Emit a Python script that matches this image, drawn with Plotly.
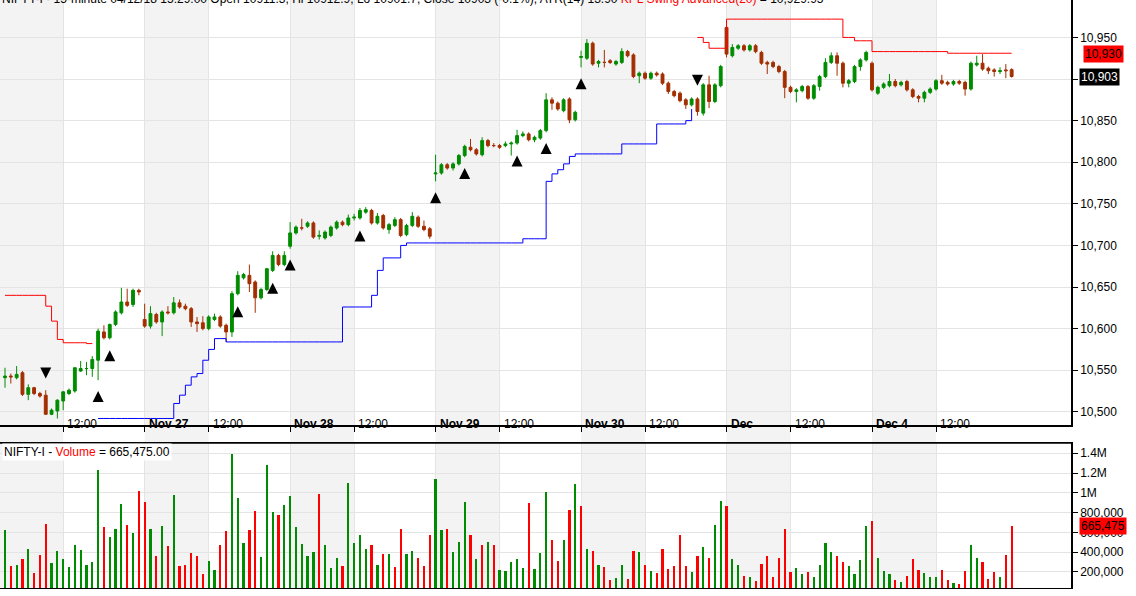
import plotly.graph_objects as go

# ---- 15-minute bars, NIFTY-I, Nov 26 - Dec 4 2018 ----
opens = [
    10541, 10543, 10541, 10547, 10521, 10529, 10522, 10520, 10497, 10501, 10513, 10522, 10525, 10549, 10552, 10552,
    10562, 10596, 10589, 10605, 10619, 10632, 10629, 10646,
    10611, 10603, 10617, 10608, 10620, 10619, 10631, 10627, 10624, 10608, 10607, 10600, 10611, 10614, 10604, 10596,
    10642, 10661, 10664, 10656, 10637, 10647, 10670, 10688, 10677,
    10699, 10715, 10721, 10723, 10727, 10711, 10709, 10712, 10721, 10728, 10725, 10733, 10733, 10740, 10742, 10727,
    10736, 10719, 10724, 10731, 10713, 10724, 10734, 10723, 10720,
    10786, 10787, 10797, 10793, 10798, 10808, 10818, 10815, 10809, 10826, 10820, 10820, 10820, 10822, 10823, 10832,
    10834, 10827, 10829, 10838, 10875, 10871, 10862, 10876, 10851,
    10926, 10925, 10943, 10919, 10920, 10922, 10918, 10920, 10933, 10929, 10904, 10907, 10901, 10907, 10906, 10895,
    10885, 10883, 10875, 10869, 10876, 10859, 10893, 10873, 10892,
    10962, 10928, 10937, 10940, 10935, 10940, 10932, 10920, 10920, 10915, 10909, 10890, 10885, 10886, 10891, 10877,
    10891, 10903, 10920, 10928, 10919, 10895, 10897, 10915, 10923,
    10919, 10883, 10890, 10892, 10897, 10893, 10897, 10887, 10879, 10877, 10884, 10888, 10898, 10896, 10894, 10897,
    10896, 10888, 10917, 10919, 10913, 10911, 10909, 10911, 10911.3,
]
highs = [
    10553, 10546, 10555, 10549, 10533, 10530, 10524, 10526, 10504, 10515, 10525, 10528, 10553, 10561, 10560, 10567,
    10600, 10604, 10606, 10622, 10649, 10648, 10648, 10648,
    10630, 10627, 10619, 10622, 10627, 10638, 10635, 10630, 10626, 10614, 10615, 10616, 10618, 10616, 10606, 10645,
    10669, 10667, 10677, 10658, 10649, 10673, 10693, 10690, 10693,
    10728, 10724, 10732, 10729, 10729, 10718, 10718, 10724, 10730, 10730, 10737, 10738, 10745, 10746, 10744, 10739,
    10738, 10727, 10734, 10733, 10726, 10740, 10736, 10730, 10722,
    10809, 10799, 10799, 10800, 10810, 10821, 10828, 10817, 10830, 10828, 10823, 10822, 10825, 10825, 10839, 10837,
    10836, 10832, 10840, 10883, 10878, 10873, 10877, 10878, 10862,
    10934, 10948, 10945, 10923, 10935, 10924, 10923, 10937, 10935, 10931, 10909, 10909, 10909, 10909, 10908, 10897,
    10887, 10885, 10877, 10878, 10878, 10895, 10904, 10895, 10917,
    10970, 10942, 10942, 10942, 10942, 10942, 10934, 10922, 10922, 10917, 10911, 10892, 10889, 10893, 10893, 10894,
    10905, 10925, 10932, 10932, 10921, 10900, 10917, 10925, 10934,
    10921, 10892, 10896, 10906, 10900, 10898, 10899, 10889, 10881, 10886, 10890, 10900, 10905, 10898, 10899, 10899,
    10898, 10921, 10928, 10930, 10915, 10913, 10914, 10918, 10912.9,
]
lows = [
    10529, 10534, 10539, 10519, 10514, 10520, 10517, 10497, 10496, 10492, 10502, 10520, 10523, 10548, 10544, 10542,
    10538, 10587, 10587, 10603, 10617, 10626, 10626, 10640,
    10601, 10600, 10606, 10591, 10617, 10617, 10624, 10622, 10602, 10596, 10598, 10598, 10609, 10601, 10584, 10590,
    10640, 10659, 10644, 10619, 10635, 10645, 10668, 10675, 10675,
    10696, 10713, 10718, 10721, 10708, 10707, 10707, 10710, 10719, 10723, 10723, 10730, 10731, 10738, 10725, 10725,
    10719, 10714, 10722, 10710, 10711, 10722, 10721, 10717, 10708,
    10777, 10785, 10791, 10790, 10796, 10806, 10813, 10808, 10807, 10818, 10818, 10816, 10818, 10808, 10821, 10830,
    10825, 10824, 10827, 10836, 10863, 10862, 10860, 10847, 10849,
    10914, 10923, 10916, 10914, 10914, 10918, 10916, 10918, 10926, 10901, 10895, 10899, 10899, 10903, 10893, 10882,
    10878, 10872, 10864, 10867, 10856, 10856, 10865, 10871, 10890,
    10926, 10926, 10935, 10933, 10933, 10931, 10917, 10906, 10913, 10907, 10877, 10883, 10872, 10884, 10875, 10875,
    10886, 10901, 10918, 10904, 10890, 10890, 10895, 10910, 10921,
    10885, 10881, 10888, 10890, 10890, 10891, 10885, 10877, 10872, 10872, 10882, 10886, 10893, 10892, 10892, 10893,
    10880, 10886, 10915, 10910, 10906, 10903, 10906, 10901, 10901.7,
]
closes = [
    10543, 10542, 10545, 10521, 10529, 10522, 10519, 10497, 10502, 10514, 10524, 10526, 10553, 10552, 10552, 10563,
    10597, 10589, 10605, 10620, 10632, 10628, 10646, 10644,
    10603, 10618, 10608, 10620, 10619, 10631, 10626, 10624, 10608, 10606, 10600, 10614, 10614, 10603, 10596, 10642,
    10664, 10665, 10654, 10637, 10647, 10672, 10688, 10677, 10688,
    10715, 10722, 10721, 10727, 10710, 10712, 10716, 10722, 10728, 10725, 10733, 10734, 10742, 10743, 10727, 10735,
    10721, 10725, 10731, 10712, 10724, 10735, 10723, 10719, 10711,
    10787, 10797, 10793, 10798, 10808, 10819, 10815, 10810, 10826, 10820, 10820, 10818, 10822, 10823, 10832, 10834,
    10827, 10830, 10838, 10875, 10871, 10864, 10875, 10851, 10860,
    10927, 10943, 10918, 10921, 10920, 10920, 10921, 10933, 10928, 10903, 10907, 10901, 10907, 10905, 10895, 10885,
    10880, 10874, 10869, 10876, 10861, 10893, 10873, 10893, 10915,
    10930, 10938, 10940, 10935, 10940, 10933, 10919, 10918, 10915, 10909, 10890, 10885, 10887, 10891, 10877, 10892,
    10903, 10920, 10928, 10919, 10895, 10898, 10915, 10923, 10932,
    10887, 10890, 10894, 10897, 10892, 10896, 10887, 10879, 10877, 10884, 10888, 10898, 10895, 10894, 10897, 10895,
    10888, 10919, 10919, 10912, 10910, 10909, 10910, 10910, 10903,
]

# volume in thousands, and bar colour (G = up, R = down)
volume_k = [
    625, 261, 271, 331, 433, 190, 372, 685, 291, 412, 331, 251, 473, 426, 271, 301, 1231, 655, 554, 635,
    888, 675, 594, 1019, 908, 635, 362, 665, 463, 978, 261, 271, 392, 362, 180, 311, 220, 473, 614, 1393,
    948, 493, 625, 817, 352, 1282, 807, 776, 878, 968, 655, 483, 362, 402, 989, 473, 240, 342, 261, 1100,
    493, 574, 433, 473, 271, 382, 382, 251, 635, 382, 412, 342, 261, 574, 1140, 625, 635, 402, 503, 908,
    574, 331, 473, 503, 473, 220, 210, 301, 331, 240, 898, 230, 392, 1009, 523, 311,
    523, 827, 1093, 867, 433, 412, 271, 251, 119, 139, 271, 129, 412, 402, 271, 210, 190, 433, 230, 261,
    574, 261, 200, 362, 453, 342, 675, 918, 867, 331, 271, 160, 149, 109, 281, 362, 149, 342, 635, 200,
    240, 180, 200, 149, 271, 493, 402, 362, 301, 261, 180, 321, 665, 716, 342, 210, 180, 119, 99, 160,
    331, 220, 190, 149, 149, 220, 119, 89, 79, 210, 473, 342, 301, 129, 200, 149, 372, 665.475,
]
volume_dir = (
    "GRGRGRRRGG" "GGGGGGGRGG" "GRGRRGRGRG" "RRRRRGGRRG" "GGRRGGGRGG"
    "GGGGRGGGRG" "GGGRGRGRRG" "GRRRGGRGGG" "RGRGRGGGGG" "RGGGRR"
    "GRGRGRGRRG" "GRRGRGRRRR" "RRGRGRGGRG" "GRGRRRRRRR" "GGRGGGGRRG"
    "GGGRGGGRGR" "RRGGGRRGRR" "GGRRRGRR"
)

# KPL swing stops as (value, number of bars); None = not shown
upper_runs = [(10640, 7), (10627, 1), (10609, 1), (10587, 1), (10583, 4), (10582, 2), (None, 103),
              (10950, 1), (10944, 1), (10937, 3), (10972, 20), (10950, 2), (10946, 3), (10933, 13), (10931, 12)]
lower_runs = [(None, 16), (10492, 13), (10510, 1), (10520, 1), (10532, 1), (10542, 1), (10546, 1), (10562, 1),
              (10575, 1), (10588, 2), (10584, 20), (10626, 5), (10640, 1), (10670, 1), (10685, 3), (10700, 1),
              (10703, 20), (10708, 4), (10777, 1), (10786, 1), (10791, 1), (10798, 1), (10807, 1), (10810, 8),
              (10822, 6), (10846, 5), (10850, 1), (10864, 1), (None, 55)]

buy_bars = [16, 18, 40, 46, 49, 61, 74, 79, 88, 93, 99]
sell_bars = [7, 119]

day_starts = [24, 49, 74, 99, 124, 149]
day_labels = ["Nov 27", "Nov 28", "Nov 29", "Nov 30", "Dec", "Dec 4"]
noon_bars = [10, 35, 60, 85, 110, 135, 160]

price_ticks = [10500, 10550, 10600, 10650, 10700, 10750, 10800, 10850, 10900, 10950]
vol_ticks = [200000, 400000, 600000, 800000, 1000000, 1200000, 1400000]
vol_tick_text = ["200,000", "400,000", "600,000", "800,000", "1M", "1.2M", "1.4M"]


def expand(runs):
    out = []
    for v, n in runs:
        out += [v] * n
    return out


bars = list(range(len(closes)))
upper = expand(upper_runs)
lower = expand(lower_runs)
volume = [v * 1000 for v in volume_k]
vol_colors = ["#008c00" if d == "G" else "#ff0000" for d in volume_dir]

fig = go.Figure()

fig.add_trace(go.Candlestick(
    x=bars, open=opens, high=highs, low=lows, close=closes,
    increasing=dict(line=dict(color="#008c00", width=1), fillcolor="#008c00"),
    decreasing=dict(line=dict(color="#a32e00", width=1), fillcolor="#a32e00"),
    whiskerwidth=0, xaxis="x", yaxis="y", showlegend=False,
))
fig.add_trace(go.Scatter(x=bars, y=upper, mode="lines", line=dict(color="#ff0000", width=1, shape="hv"),
                         xaxis="x", yaxis="y", showlegend=False, connectgaps=False))
fig.add_trace(go.Scatter(x=bars, y=lower, mode="lines", line=dict(color="#0000ff", width=1, shape="hv"),
                         xaxis="x", yaxis="y", showlegend=False, connectgaps=False))
fig.add_trace(go.Scatter(x=buy_bars, y=[lows[i] - 13 for i in buy_bars], mode="markers",
                         marker=dict(symbol="arrow-up", size=11, color="black"),
                         xaxis="x", yaxis="y", showlegend=False))
fig.add_trace(go.Scatter(x=sell_bars, y=[highs[i] + 14 for i in sell_bars], mode="markers",
                         marker=dict(symbol="arrow-down", size=11, color="black"),
                         xaxis="x", yaxis="y", showlegend=False))
fig.add_trace(go.Bar(x=bars, y=volume, marker=dict(color=vol_colors, line=dict(width=0)), width=0.38,
                     xaxis="x2", yaxis="y2", showlegend=False))

# morning shading, start of day to 12:00
shapes = []
starts = [-1] + day_starts
for s, n in zip(starts, noon_bars):
    shapes.append(dict(type="rect", xref="x", yref="paper", x0=s, x1=n, y0=0, y1=1,
                       fillcolor="#f3f3f3", line=dict(width=0), layer="below"))
# separator between price panel and volume panel
shapes.append(dict(type="line", xref="paper", yref="paper", x0=0, x1=1, y0=0.2466, y1=0.2466,
                   line=dict(color="black", width=1.5)))

grid = "#e4e4e4"
xr = [-0.86, 183.2]
tickvals = sorted(day_starts + noon_bars)

annotations = []
for b in noon_bars:
    annotations.append(dict(x=b, xref="x", y=0.263, yref="paper", text="12:00", showarrow=False,
                            xanchor="left", xshift=2, font=dict(size=12, color="black")))
for b, t in zip(day_starts, day_labels):
    annotations.append(dict(x=b, xref="x", y=0.263, yref="paper", text="<b>" + t + "</b>", showarrow=False,
                            xanchor="left", xshift=2, font=dict(size=12, color="black")))

annotations += [
    dict(x=0, xref="paper", y=1.0, yref="paper", xanchor="left", yanchor="middle", showarrow=False, yshift=1,
         text="NIFTY-I - 15-minute 04/12/18 15:29:00 Open 10911.3, Hi 10912.9, Lo 10901.7, Close 10903 (-0.1%), "
              "ATR(14) 13.90 <span style='color:#ff0000'>KPL Swing Advanced(20)</span> = 10,929.95",
         font=dict(size=12, color="black")),
    dict(x=0.002, xref="paper", y=0.2466, yref="paper", xanchor="left", yanchor="top", showarrow=False,
         text="NIFTY-I - <span style='color:#ff0000'>Volume</span> = 665,475.00",
         font=dict(size=12, color="black"), bgcolor="white"),
    dict(x=0, xref="paper", y=-0.012, yref="paper", xanchor="left", yanchor="top", showarrow=False,
         text="Created with AmiBroker - advanced charting and technical analysis software. http://www.amibroker.com",
         font=dict(size=12, color="black")),
    dict(x=1, xref="paper", y=10930, yref="y", xanchor="left", xshift=12, showarrow=False, text="10,930",
         bgcolor="#ff0000", font=dict(size=12, color="black"), borderpad=1),
    dict(x=1, xref="paper", y=10903, yref="y", xanchor="left", xshift=8, showarrow=False, text="10,903",
         bgcolor="black", font=dict(size=12, color="white"), borderpad=1),
    dict(x=1, xref="paper", y=665475, yref="y2", xanchor="left", xshift=8, showarrow=False, text="665,475",
         bgcolor="#ff0000", font=dict(size=12, color="black"), borderpad=1),
]

fig.update_layout(
    width=1136, height=596,
    margin=dict(l=0, r=65, t=0, b=8, autoexpand=False),
    paper_bgcolor="white", plot_bgcolor="white",
    font=dict(family="Liberation Sans, Arial, sans-serif", size=12, color="black"),
    bargap=0,
    shapes=shapes, annotations=annotations,
    xaxis=dict(domain=[0, 1], range=xr, anchor="y", tickvals=tickvals, showticklabels=False,
               showgrid=True, gridcolor=grid, zeroline=False, rangeslider=dict(visible=False),
               showline=True, linecolor="black", linewidth=1.5, ticks="outside", ticklen=5, tickcolor="black"),
    yaxis=dict(domain=[0.277, 1], range=[10484, 10995], side="right", tickvals=price_ticks,
               tickformat=",", showgrid=True, gridcolor=grid, zeroline=False,
               showline=True, linecolor="black", linewidth=1.5, ticks="outside", ticklen=5, tickcolor="black"),
    xaxis2=dict(domain=[0, 1], range=xr, anchor="y2", tickvals=tickvals, showticklabels=False,
                showgrid=True, gridcolor=grid, zeroline=False, showline=True, linecolor="black", mirror=True),
    yaxis2=dict(domain=[0, 0.2466], range=[38000, 1504000], side="right", tickvals=vol_ticks,
                ticktext=vol_tick_text, showgrid=True, gridcolor=grid, zeroline=False,
                showline=True, linecolor="black", linewidth=1.5, ticks="outside", ticklen=5, tickcolor="black"),
)

# the page body has a default 8px margin; drop it so the figure sits at the window corner
fig.write_html("out.html", config={"displayModeBar": False},
               post_script="document.body.style.margin='0px';")
